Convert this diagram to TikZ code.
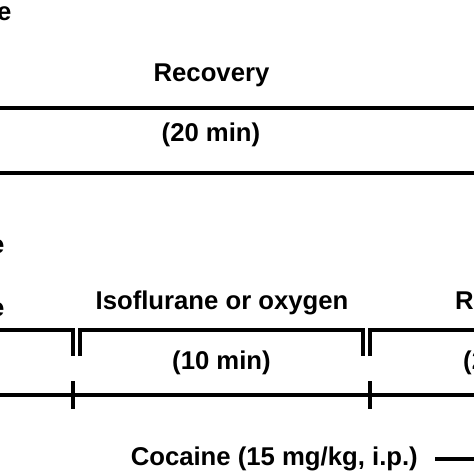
\documentclass[tikz,border=0pt]{standalone}
\usepackage{fontspec}
\setmainfont{Liberation Sans}
\tikzset{
  lbl/.style={font=\fontsize{25.7}{30}\selectfont\bfseries, inner sep=0pt, anchor=base},
  rule/.style={line width=4pt, line cap=butt, line join=miter}
}
\begin{document}
\begin{tikzpicture}[x=1pt,y=-1pt]
\useasboundingbox[fill=white] (0,0) rectangle (474,474);
% ---- top panel ----
\node[lbl, anchor=base east] (e1) at (11.5,20) {e};
\node[lbl] (rec1) at (211.5,81) {Recovery};
\node[lbl] (t20) at (211,141) {(20 min)};
\coordinate (a1) at (-2,107.5);
\coordinate (a2) at (476,107.5);
\coordinate (b1) at (-2,172.5);
\coordinate (b2) at (476,172.5);
\draw[rule] (a1) -- (a2);
\draw[rule] (b1) -- (b2);
% ---- bottom panel ----
\node[lbl, anchor=base east] (e2) at (4.5,253) {e};
\node[lbl, anchor=base east] (e3) at (4.5,316) {e};
\node[lbl] (iso) at (222,309) {Isoflurane or oxygen};
\node[lbl, anchor=base west] (rec2) at (455,309) {Recovery};
\node[lbl] (t10) at (221.5,369) {(10 min)};
\node[lbl, anchor=base west] (t20b) at (463,369) {(20 min)};
% brackets
\coordinate (p0) at (-2,330);
\coordinate (p1) at (73,330);
\coordinate (p2) at (73,356);
\coordinate (q1) at (80,356);
\coordinate (q2) at (80,330);
\coordinate (q3) at (363,330);
\coordinate (q4) at (363,356);
\coordinate (r1) at (370,356);
\coordinate (r2) at (370,330);
\coordinate (r3) at (476,330);
\draw[rule] (p0) -- (p1) -- (p2);
\draw[rule] (q1) -- (q2) -- (q3) -- (q4);
\draw[rule] (r1) -- (r2) -- (r3);
% timeline
\coordinate (l0) at (-2,395);
\coordinate (l1) at (476,395);
\coordinate (k1a) at (73,381);
\coordinate (k1b) at (73,409);
\coordinate (k2a) at (370,381);
\coordinate (k2b) at (370,409);
\draw[rule] (l0) -- (l1);
\draw[rule] (k1a) -- (k1b);
\draw[rule] (k2a) -- (k2b);
% legend
\node[lbl, anchor=base east] (coc) at (418,465) {Cocaine (15 mg/kg, i.p.)};
\coordinate (m1) at (435,459);
\coordinate (m2) at (476,459);
\draw[rule] (m1) -- (m2);
\end{tikzpicture}
\end{document}
